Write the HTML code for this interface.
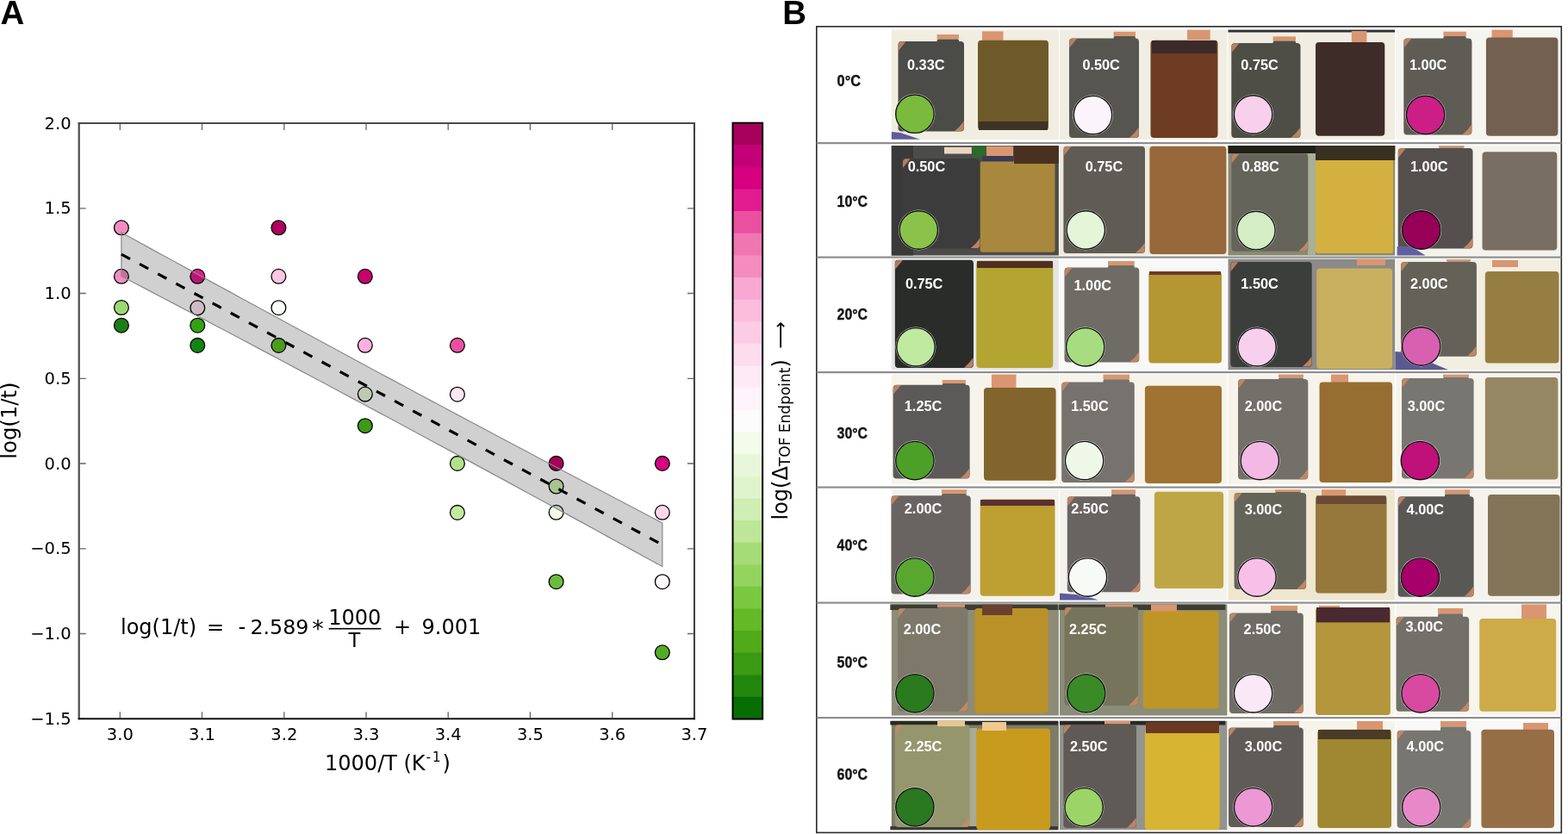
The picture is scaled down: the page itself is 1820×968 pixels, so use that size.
<!DOCTYPE html>
<html><head><meta charset="utf-8"><title>Figure</title>
<style>html,body{margin:0;padding:0;background:#fff;}body{width:1820px;height:968px;position:relative;overflow:hidden;}</style>
</head><body>
<svg width="1820" height="968" viewBox="0 0 1820 968" style="position:absolute;left:0;top:0">
<rect x="0" y="0" width="1820" height="968" fill="#fff"/>
<text x="0.5" y="28.3" font-family="'Liberation Sans', 'DejaVu Sans', sans-serif" font-weight="bold" font-size="38.5px" fill="#000">A</text>
<text x="908.3" y="28.3" font-family="'Liberation Sans', 'DejaVu Sans', sans-serif" font-weight="bold" font-size="38.5px" fill="#000">B</text>
<circle cx="140.9" cy="264.3" r="8.4" fill="#f48cc0" stroke="#000" stroke-width="1.3"/>
<circle cx="140.9" cy="320.8" r="8.4" fill="#f48cc0" stroke="#000" stroke-width="1.3"/>
<circle cx="140.9" cy="357.0" r="8.4" fill="#9cd870" stroke="#000" stroke-width="1.3"/>
<circle cx="140.9" cy="377.7" r="8.4" fill="#1a7e14" stroke="#000" stroke-width="1.3"/>
<circle cx="229.3" cy="320.8" r="8.4" fill="#e21c8e" stroke="#000" stroke-width="1.3"/>
<circle cx="229.3" cy="357.3" r="8.4" fill="#fde6f2" stroke="#000" stroke-width="1.3"/>
<circle cx="229.3" cy="377.7" r="8.4" fill="#30a412" stroke="#000" stroke-width="1.3"/>
<circle cx="229.3" cy="400.9" r="8.4" fill="#128412" stroke="#000" stroke-width="1.3"/>
<circle cx="323.4" cy="264.3" r="8.4" fill="#b0005f" stroke="#000" stroke-width="1.3"/>
<circle cx="323.4" cy="320.8" r="8.4" fill="#fbc6e2" stroke="#000" stroke-width="1.3"/>
<circle cx="323.4" cy="357.2" r="8.4" fill="#fafdf6" stroke="#000" stroke-width="1.3"/>
<circle cx="323.4" cy="400.9" r="8.4" fill="#5cc020" stroke="#000" stroke-width="1.3"/>
<circle cx="423.8" cy="320.8" r="8.4" fill="#c8006e" stroke="#000" stroke-width="1.3"/>
<circle cx="423.8" cy="400.8" r="8.4" fill="#fab0dc" stroke="#000" stroke-width="1.3"/>
<circle cx="423.8" cy="457.6" r="8.4" fill="#e8f7da" stroke="#000" stroke-width="1.3"/>
<circle cx="423.8" cy="494.2" r="8.4" fill="#3c9a14" stroke="#000" stroke-width="1.3"/>
<circle cx="530.9" cy="400.8" r="8.4" fill="#ea50a0" stroke="#000" stroke-width="1.3"/>
<circle cx="530.9" cy="457.7" r="8.4" fill="#fde6f2" stroke="#000" stroke-width="1.3"/>
<circle cx="530.9" cy="537.9" r="8.4" fill="#b2e288" stroke="#000" stroke-width="1.3"/>
<circle cx="530.9" cy="594.9" r="8.4" fill="#c4eaa0" stroke="#000" stroke-width="1.3"/>
<circle cx="645.6" cy="537.9" r="8.4" fill="#a6005a" stroke="#000" stroke-width="1.3"/>
<circle cx="645.6" cy="564.5" r="8.4" fill="#d0eeb4" stroke="#000" stroke-width="1.3"/>
<circle cx="645.6" cy="594.8" r="8.4" fill="#f0fae4" stroke="#000" stroke-width="1.3"/>
<circle cx="645.6" cy="675.2" r="8.4" fill="#6cbc3c" stroke="#000" stroke-width="1.3"/>
<circle cx="768.8" cy="537.9" r="8.4" fill="#d60080" stroke="#000" stroke-width="1.3"/>
<circle cx="768.8" cy="594.8" r="8.4" fill="#fcd6ea" stroke="#000" stroke-width="1.3"/>
<circle cx="768.8" cy="675.2" r="8.4" fill="#fffafd" stroke="#000" stroke-width="1.3"/>
<circle cx="768.8" cy="757.3" r="8.4" fill="#54ac24" stroke="#000" stroke-width="1.3"/>
<polygon points="140.9,269.8 156.6,278.5 172.3,287.1 188.0,295.7 203.7,304.3 219.4,312.9 235.1,321.5 250.8,330.1 266.5,338.6 282.2,347.2 297.9,355.8 313.5,364.3 329.2,372.8 344.9,381.3 360.6,389.8 376.3,398.3 392.0,406.8 407.7,415.3 423.4,423.7 439.1,432.2 454.8,440.6 470.5,449.0 486.2,457.5 501.9,465.9 517.6,474.2 533.3,482.6 549.0,491.0 564.7,499.3 580.4,507.7 596.1,516.0 611.8,524.3 627.5,532.7 643.2,541.0 658.9,549.2 674.6,557.5 690.3,565.8 706.0,574.0 721.7,582.3 737.4,590.5 753.1,598.8 768.8,607.0 768.8,657.6 753.1,649.0 737.4,640.4 721.7,631.7 706.0,623.1 690.3,614.5 674.6,605.9 658.9,597.4 643.2,588.8 627.5,580.2 611.8,571.7 596.1,563.1 580.4,554.6 564.7,546.1 549.0,537.6 533.3,529.1 517.6,520.6 501.9,512.2 486.2,503.7 470.5,495.3 454.8,486.8 439.1,478.4 423.4,470.0 407.7,461.6 392.0,453.2 376.3,444.8 360.6,436.5 344.9,428.1 329.2,419.8 313.5,411.4 297.9,403.1 282.2,394.8 266.5,386.5 250.8,378.2 235.1,369.9 219.4,361.7 203.7,353.4 188.0,345.2 172.3,336.9 156.6,328.7 140.9,320.5" fill="#000" fill-opacity="0.185" stroke="#8a8a8a" stroke-opacity="1" stroke-width="1.2"/>
<line x1="140.88543799089496" y1="295.1" x2="768.7541045823418" y2="632.3" stroke="#000" stroke-width="3.2" stroke-dasharray="11.5 12.5"/>
<path d="M139.3 833.3v-7M139.3 144.0v7M234.5 833.3v-7M234.5 144.0v7M329.8 833.3v-7M329.8 144.0v7M425.0 833.3v-7M425.0 144.0v7M520.2 833.3v-7M520.2 144.0v7M615.4 833.3v-7M615.4 144.0v7M710.7 833.3v-7M710.7 144.0v7M805.9 833.3v-7M805.9 144.0v7M92.7 143.0h7M804.9 143.0h-7M92.7 241.8h7M804.9 241.8h-7M92.7 340.5h7M804.9 340.5h-7M92.7 439.3h7M804.9 439.3h-7M92.7 538.0h7M804.9 538.0h-7M92.7 636.8h7M804.9 636.8h-7M92.7 735.5h7M804.9 735.5h-7M92.7 834.3h7M804.9 834.3h-7" stroke="#666" stroke-width="1.3" fill="none"/>
<line x1="91.7" y1="142.0" x2="91.7" y2="835.3" stroke="#4a4a4a" stroke-width="2.2"/>
<line x1="805.9" y1="142.0" x2="805.9" y2="835.3" stroke="#3a3a3a" stroke-width="2"/>
<line x1="90.7" y1="143.0" x2="806.9" y2="143.0" stroke="#4a4a4a" stroke-width="2"/>
<line x1="90.7" y1="834.3" x2="806.9" y2="834.3" stroke="#111" stroke-width="2"/>
<text x="139.3" y="858.6" text-anchor="middle" font-family="'DejaVu Sans', 'Liberation Sans', sans-serif" font-size="19.5px" fill="#000">3.0</text>
<text x="234.5" y="858.6" text-anchor="middle" font-family="'DejaVu Sans', 'Liberation Sans', sans-serif" font-size="19.5px" fill="#000">3.1</text>
<text x="329.8" y="858.6" text-anchor="middle" font-family="'DejaVu Sans', 'Liberation Sans', sans-serif" font-size="19.5px" fill="#000">3.2</text>
<text x="425.0" y="858.6" text-anchor="middle" font-family="'DejaVu Sans', 'Liberation Sans', sans-serif" font-size="19.5px" fill="#000">3.3</text>
<text x="520.2" y="858.6" text-anchor="middle" font-family="'DejaVu Sans', 'Liberation Sans', sans-serif" font-size="19.5px" fill="#000">3.4</text>
<text x="615.4" y="858.6" text-anchor="middle" font-family="'DejaVu Sans', 'Liberation Sans', sans-serif" font-size="19.5px" fill="#000">3.5</text>
<text x="710.7" y="858.6" text-anchor="middle" font-family="'DejaVu Sans', 'Liberation Sans', sans-serif" font-size="19.5px" fill="#000">3.6</text>
<text x="805.9" y="858.6" text-anchor="middle" font-family="'DejaVu Sans', 'Liberation Sans', sans-serif" font-size="19.5px" fill="#000">3.7</text>
<text x="82.6" y="149.6" text-anchor="end" font-family="'DejaVu Sans', 'Liberation Sans', sans-serif" font-size="19.5px" fill="#000">2.0</text>
<text x="82.6" y="248.4" text-anchor="end" font-family="'DejaVu Sans', 'Liberation Sans', sans-serif" font-size="19.5px" fill="#000">1.5</text>
<text x="82.6" y="347.1" text-anchor="end" font-family="'DejaVu Sans', 'Liberation Sans', sans-serif" font-size="19.5px" fill="#000">1.0</text>
<text x="82.6" y="445.9" text-anchor="end" font-family="'DejaVu Sans', 'Liberation Sans', sans-serif" font-size="19.5px" fill="#000">0.5</text>
<text x="82.6" y="544.6" text-anchor="end" font-family="'DejaVu Sans', 'Liberation Sans', sans-serif" font-size="19.5px" fill="#000">0.0</text>
<text x="82.6" y="643.4" text-anchor="end" font-family="'DejaVu Sans', 'Liberation Sans', sans-serif" font-size="19.5px" fill="#000">−0.5</text>
<text x="82.6" y="742.1" text-anchor="end" font-family="'DejaVu Sans', 'Liberation Sans', sans-serif" font-size="19.5px" fill="#000">−1.0</text>
<text x="82.6" y="840.9" text-anchor="end" font-family="'DejaVu Sans', 'Liberation Sans', sans-serif" font-size="19.5px" fill="#000">−1.5</text>
<text x="450" y="893.5" text-anchor="middle" font-family="'DejaVu Sans', 'Liberation Sans', sans-serif" font-size="24px" fill="#000">1000/T (K<tspan font-size="15.5px" dy="-9.5" dx="1">-</tspan><tspan font-size="15.5px" dx="1.5">1</tspan><tspan dy="9.5" dx="2">)</tspan></text>
<text transform="translate(19.2,488.1) rotate(-90)" text-anchor="middle" font-family="'DejaVu Sans', 'Liberation Sans', sans-serif" font-size="24.3px" fill="#000">log(1/t)</text>
<text x="140" y="735.7" font-family="'DejaVu Sans', 'Liberation Sans', sans-serif" font-size="24px" fill="#000" xml:space="preserve">log(1/t)</text>
<text x="240" y="735.7" font-family="'DejaVu Sans', 'Liberation Sans', sans-serif" font-size="24px" fill="#000">=</text>
<text x="276.5" y="735.7" font-family="'DejaVu Sans', 'Liberation Sans', sans-serif" font-size="24px" fill="#000">-</text>
<text x="290.5" y="735.7" font-family="'DejaVu Sans', 'Liberation Sans', sans-serif" font-size="23.7px" fill="#000">2.589</text>
<text x="362.3" y="738.5" font-family="'DejaVu Sans', 'Liberation Sans', sans-serif" font-size="27px" fill="#000">*</text>
<text x="411.7" y="724.6" text-anchor="middle" font-family="'DejaVu Sans', 'Liberation Sans', sans-serif" font-size="24px" fill="#000">1000</text>
<rect x="381.6" y="728.9" width="60.7" height="1.6" fill="#000"/>
<text x="411.3" y="750.7" text-anchor="middle" font-family="'DejaVu Sans', 'Liberation Sans', sans-serif" font-size="22.5px" fill="#000">T</text>
<text x="457" y="735.7" font-family="'DejaVu Sans', 'Liberation Sans', sans-serif" font-size="24px" fill="#000">+</text>
<text x="489.5" y="735.7" font-family="'DejaVu Sans', 'Liberation Sans', sans-serif" font-size="24px" fill="#000">9.001</text>
<rect x="850.5" y="142.70" width="34.6" height="26.22" fill="#a6005a"/>
<rect x="850.5" y="168.32" width="34.6" height="26.22" fill="#c40076"/>
<rect x="850.5" y="193.94" width="34.6" height="26.22" fill="#d60080"/>
<rect x="850.5" y="219.57" width="34.6" height="26.22" fill="#e21c8e"/>
<rect x="850.5" y="245.19" width="34.6" height="26.22" fill="#ea50a0"/>
<rect x="850.5" y="270.81" width="34.6" height="26.22" fill="#f076b2"/>
<rect x="850.5" y="296.43" width="34.6" height="26.22" fill="#f48cc0"/>
<rect x="850.5" y="322.06" width="34.6" height="26.22" fill="#f8a8d2"/>
<rect x="850.5" y="347.68" width="34.6" height="26.22" fill="#fbbcdc"/>
<rect x="850.5" y="373.30" width="34.6" height="26.22" fill="#fccce4"/>
<rect x="850.5" y="398.92" width="34.6" height="26.22" fill="#fddcee"/>
<rect x="850.5" y="424.54" width="34.6" height="26.22" fill="#feeaf5"/>
<rect x="850.5" y="450.17" width="34.6" height="26.22" fill="#fef4f9"/>
<rect x="850.5" y="475.79" width="34.6" height="26.22" fill="#fcfcfc"/>
<rect x="850.5" y="501.41" width="34.6" height="26.22" fill="#f3fbe9"/>
<rect x="850.5" y="527.03" width="34.6" height="26.22" fill="#e8f7da"/>
<rect x="850.5" y="552.66" width="34.6" height="26.22" fill="#dff4cc"/>
<rect x="850.5" y="578.28" width="34.6" height="26.22" fill="#d0eeb4"/>
<rect x="850.5" y="603.90" width="34.6" height="26.22" fill="#bde698"/>
<rect x="850.5" y="629.52" width="34.6" height="26.22" fill="#a6dc78"/>
<rect x="850.5" y="655.14" width="34.6" height="26.22" fill="#92d45e"/>
<rect x="850.5" y="680.77" width="34.6" height="26.22" fill="#7ac840"/>
<rect x="850.5" y="706.39" width="34.6" height="26.22" fill="#64ba26"/>
<rect x="850.5" y="732.01" width="34.6" height="26.22" fill="#50aa1a"/>
<rect x="850.5" y="757.63" width="34.6" height="26.22" fill="#3a9a12"/>
<rect x="850.5" y="783.26" width="34.6" height="26.22" fill="#22860c"/>
<rect x="850.5" y="808.88" width="34.6" height="26.22" fill="#076e04"/>
<rect x="850.5" y="142.7" width="34.6" height="691.8" fill="none" stroke="#000" stroke-width="2"/>
<g transform="translate(913.6,603.5) rotate(-90)"><text x="0" y="0" font-family="'DejaVu Sans', 'Liberation Sans', sans-serif" font-size="24px" fill="#000">log(Δ<tspan font-size="17px" dy="3.5">TOF Endpoint</tspan><tspan dy="-3.5">)</tspan></text></g>
<g transform="translate(912.5,404.5) rotate(-90)"><text x="0" y="0" font-family="'DejaVu Sans', 'Liberation Sans', sans-serif" font-size="22px" fill="#000">⟶</text></g>
<rect x="947.8" y="30.8" width="864.5" height="935.6" fill="#fff" stroke="#2a2a2a" stroke-width="1.6"/>
<rect x="947.8" y="165.0" width="864.5" height="2.2" fill="#8e8e8e"/>
<rect x="947.8" y="297.5" width="864.5" height="2.2" fill="#8e8e8e"/>
<rect x="947.8" y="431.0" width="864.5" height="2.2" fill="#8e8e8e"/>
<rect x="947.8" y="564.5" width="864.5" height="2.2" fill="#8e8e8e"/>
<rect x="947.8" y="698.5" width="864.5" height="2.2" fill="#8e8e8e"/>
<rect x="947.8" y="832.0" width="864.5" height="2.2" fill="#8e8e8e"/>
<text x="971.6" y="99.5" font-family="'Liberation Sans', 'DejaVu Sans', sans-serif" font-weight="bold" font-size="17.5px" fill="#111" stroke="#111" stroke-width="0.35" textLength="27.4" lengthAdjust="spacingAndGlyphs">0°C</text>
<text x="971.6" y="240.3" font-family="'Liberation Sans', 'DejaVu Sans', sans-serif" font-weight="bold" font-size="17.5px" fill="#111" stroke="#111" stroke-width="0.35" textLength="35.5" lengthAdjust="spacingAndGlyphs">10°C</text>
<text x="971.6" y="371.4" font-family="'Liberation Sans', 'DejaVu Sans', sans-serif" font-weight="bold" font-size="17.5px" fill="#111" stroke="#111" stroke-width="0.35" textLength="35.5" lengthAdjust="spacingAndGlyphs">20°C</text>
<text x="971.6" y="509.1" font-family="'Liberation Sans', 'DejaVu Sans', sans-serif" font-weight="bold" font-size="17.5px" fill="#111" stroke="#111" stroke-width="0.35" textLength="35.5" lengthAdjust="spacingAndGlyphs">30°C</text>
<text x="971.6" y="638.6" font-family="'Liberation Sans', 'DejaVu Sans', sans-serif" font-weight="bold" font-size="17.5px" fill="#111" stroke="#111" stroke-width="0.35" textLength="35.5" lengthAdjust="spacingAndGlyphs">40°C</text>
<text x="971.6" y="774.7" font-family="'Liberation Sans', 'DejaVu Sans', sans-serif" font-weight="bold" font-size="17.5px" fill="#111" stroke="#111" stroke-width="0.35" textLength="35.5" lengthAdjust="spacingAndGlyphs">50°C</text>
<text x="971.6" y="904.7" font-family="'Liberation Sans', 'DejaVu Sans', sans-serif" font-weight="bold" font-size="17.5px" fill="#111" stroke="#111" stroke-width="0.35" textLength="35.5" lengthAdjust="spacingAndGlyphs">60°C</text>
<rect x="1034.8" y="34.6" width="194.1" height="127.4" fill="#f1ede0"/>
<rect x="1087.6" y="40" width="25.4" height="5.4" fill="#d99670"/>
<rect x="1087.6" y="45.4" width="25.4" height="5.6" rx="1.5" fill="#4b4b48"/>
<rect x="1140" y="36.4" width="24.5" height="10.6" fill="#d99670"/>
<rect x="1042.5" y="48" width="76.5" height="104.5" rx="4" fill="#4b4b48"/>
<path d="M1042.8 59.0L1042.8 52.0Q1043.1 48.6 1046.5 48.3L1051.5 48.3Z" fill="#c98a66" opacity="0.85"/>
<path d="M1118.7 140.5L1118.7 148.5Q1118.4 151.9 1115.0 152.2L1108.0 152.2Q1114.0 147.5 1118.7 140.5Z" fill="#c98a66" opacity="0.9"/>
<rect x="1135" y="46.7" width="82.0" height="104.3" rx="4" fill="#6e5a28"/>
<rect x="1136" y="141" width="80.0" height="10.0" fill="#3e3224"/>
<polygon points="1034.8,153 1045,154 1068,161.8 1034.8,161.8" fill="#5c5c9c"/>
<text x="1053" y="81.1" font-family="'Liberation Sans', 'DejaVu Sans', sans-serif" font-weight="bold" font-size="15.8px" fill="#fff" textLength="43.5" lengthAdjust="spacingAndGlyphs">0.33C</text>
<circle cx="1061.9" cy="132.2" r="23.4" fill="#fff" fill-opacity="0.85"/>
<circle cx="1061.9" cy="132.2" r="22.2" fill="#7abb3e" stroke="#111" stroke-width="1.4"/>
<rect x="1230.0" y="34.6" width="194.4" height="127.4" fill="#f0ede2"/>
<rect x="1292.6" y="36.8" width="25.4" height="5.2" fill="#d99670"/>
<rect x="1292.6" y="42.0" width="25.4" height="5.5" rx="1.5" fill="#575550"/>
<rect x="1378" y="34.6" width="26.7" height="11.4" fill="#d99670"/>
<rect x="1241" y="44.5" width="81.0" height="115.5" rx="4" fill="#575550"/>
<path d="M1241.3 55.5L1241.3 48.5Q1241.6 45.1 1245.0 44.8L1250.0 44.8Z" fill="#c98a66" opacity="0.85"/>
<path d="M1321.7 148.0L1321.7 156.0Q1321.4 159.4 1318.0 159.7L1311.0 159.7Q1317.0 155.0 1321.7 148.0Z" fill="#c98a66" opacity="0.9"/>
<rect x="1335.5" y="46.7" width="78.0" height="113.3" rx="4" fill="#6e3c22"/>
<rect x="1337" y="47" width="75.0" height="15.0" fill="#3c2a28"/>
<text x="1256.4" y="81.1" font-family="'Liberation Sans', 'DejaVu Sans', sans-serif" font-weight="bold" font-size="15.8px" fill="#fff" textLength="43.5" lengthAdjust="spacingAndGlyphs">0.50C</text>
<circle cx="1268.5" cy="133.5" r="23.4" fill="#fff" fill-opacity="0.85"/>
<circle cx="1268.5" cy="133.5" r="22.2" fill="#fbf4fa" stroke="#111" stroke-width="1.4"/>
<rect x="1425.5" y="34.6" width="193.7" height="127.4" fill="#f1ede2"/>
<rect x="1425.5" y="34.6" width="193.5" height="2.9" fill="#30303a"/>
<rect x="1477.6" y="42.3" width="26.4" height="5.2" fill="#d99670"/>
<rect x="1477.6" y="47.5" width="26.4" height="5.5" rx="1.5" fill="#4e4e46"/>
<rect x="1568.8" y="36" width="17.6" height="13.0" fill="#d99670"/>
<rect x="1429.3" y="50" width="80.2" height="110.0" rx="4" fill="#4e4e46"/>
<path d="M1429.6 61.0L1429.6 54.0Q1429.9 50.6 1433.3 50.3L1438.3 50.3Z" fill="#c98a66" opacity="0.85"/>
<path d="M1509.2 148.0L1509.2 156.0Q1508.9 159.4 1505.5 159.7L1498.5 159.7Q1504.5 155.0 1509.2 148.0Z" fill="#c98a66" opacity="0.9"/>
<rect x="1527" y="48.9" width="80.3" height="108.8" rx="4" fill="#3e2c28"/>
<text x="1440.3" y="81.1" font-family="'Liberation Sans', 'DejaVu Sans', sans-serif" font-weight="bold" font-size="15.8px" fill="#fff" textLength="43.5" lengthAdjust="spacingAndGlyphs">0.75C</text>
<circle cx="1454.6" cy="133" r="23.4" fill="#fff" fill-opacity="0.85"/>
<circle cx="1454.6" cy="133" r="22.2" fill="#f8d0ec" stroke="#111" stroke-width="1.4"/>
<rect x="1620.5" y="34.6" width="190.1" height="127.4" fill="#f6f4ee"/>
<rect x="1675.4" y="36.7" width="26.4" height="5.3" fill="#d99670"/>
<rect x="1675.4" y="42.0" width="26.4" height="5.5" rx="1.5" fill="#5f5c56"/>
<rect x="1731.5" y="34.6" width="24.2" height="9.9" fill="#d99670"/>
<rect x="1629.3" y="44.5" width="79.1" height="112.1" rx="4" fill="#5f5c56"/>
<path d="M1629.6 55.5L1629.6 48.5Q1629.9 45.1 1633.3 44.8L1638.3 44.8Z" fill="#c98a66" opacity="0.85"/>
<path d="M1708.1 144.6L1708.1 152.6Q1707.8 156.0 1704.4 156.3L1697.4 156.3Q1703.4 151.6 1708.1 144.6Z" fill="#c98a66" opacity="0.9"/>
<rect x="1724.9" y="43.4" width="83.5" height="114.3" rx="4" fill="#736050"/>
<text x="1635.9" y="81.1" font-family="'Liberation Sans', 'DejaVu Sans', sans-serif" font-weight="bold" font-size="15.8px" fill="#fff" textLength="43.5" lengthAdjust="spacingAndGlyphs">1.00C</text>
<circle cx="1654.6" cy="133.5" r="23.4" fill="#fff" fill-opacity="0.85"/>
<circle cx="1654.6" cy="133.5" r="22.2" fill="#cc1f86" stroke="#111" stroke-width="1.4"/>
<rect x="1034.8" y="169.0" width="194.1" height="127.5" fill="#4c4c4a"/>
<rect x="1034.8" y="169" width="25.2" height="127.5" fill="#3a3a3a"/>
<rect x="1145" y="169.7" width="31.0" height="11.3" fill="#d99670"/>
<rect x="1047.6" y="184" width="90.1" height="104.4" rx="6" fill="#3c3c3c"/>
<path d="M1047.9 195.0L1047.9 188.0Q1048.2 184.6 1051.6 184.3L1056.6 184.3Z" fill="#c98a66" opacity="0.85"/>
<path d="M1137.4 276.4L1137.4 284.4Q1137.1 287.8 1133.7 288.1L1126.7 288.1Q1132.7 283.4 1137.4 276.4Z" fill="#c98a66" opacity="0.9"/>
<rect x="1137.7" y="187.3" width="86.8" height="105.5" rx="3" fill="#a8883c"/>
<rect x="1096" y="170.8" width="31.8" height="7.7" fill="#e8d8c0"/>
<rect x="1129" y="169" width="15.0" height="14.0" fill="#2a6a2a"/>
<rect x="1177" y="169" width="51.9" height="21.0" fill="#4a3020"/>
<rect x="1140" y="181" width="36.0" height="6.3" fill="#3a3a58"/>
<text x="1053.7" y="199.3" font-family="'Liberation Sans', 'DejaVu Sans', sans-serif" font-weight="bold" font-size="15.8px" fill="#fff" textLength="43.5" lengthAdjust="spacingAndGlyphs">0.50C</text>
<circle cx="1066.3" cy="267" r="23.4" fill="#fff" fill-opacity="0.85"/>
<circle cx="1066.3" cy="267" r="22.2" fill="#8bc34a" stroke="#111" stroke-width="1.4"/>
<rect x="1230.0" y="169.0" width="194.4" height="127.5" fill="#eeeadc"/>
<rect x="1234.4" y="169.7" width="94.6" height="124.2" rx="4" fill="#5f5c55"/>
<path d="M1234.7 180.7L1234.7 173.7Q1235.0 170.3 1238.4 170.0L1243.4 170.0Z" fill="#c98a66" opacity="0.85"/>
<path d="M1328.7 281.9L1328.7 289.9Q1328.4 293.3 1325.0 293.6L1318.0 293.6Q1324.0 288.9 1328.7 281.9Z" fill="#c98a66" opacity="0.9"/>
<rect x="1334.4" y="169.7" width="89.0" height="125.3" rx="4" fill="#96683a"/>
<text x="1259.7" y="199.3" font-family="'Liberation Sans', 'DejaVu Sans', sans-serif" font-weight="bold" font-size="15.8px" fill="#fff" textLength="43.5" lengthAdjust="spacingAndGlyphs">0.75C</text>
<circle cx="1260.3" cy="267" r="23.4" fill="#fff" fill-opacity="0.85"/>
<circle cx="1260.3" cy="267" r="22.2" fill="#e4f5d8" stroke="#111" stroke-width="1.4"/>
<rect x="1425.5" y="169.0" width="193.7" height="127.5" fill="#8a8a70"/>
<rect x="1425.5" y="169" width="193.7" height="9.0" fill="#202018"/>
<rect x="1518" y="178" width="9.0" height="118.5" fill="#a8b098"/>
<rect x="1429.3" y="178.5" width="89.0" height="113.2" rx="4" fill="#64645a"/>
<path d="M1429.6 189.5L1429.6 182.5Q1429.9 179.1 1433.3 178.8L1438.3 178.8Z" fill="#c98a66" opacity="0.85"/>
<path d="M1518.0 279.7L1518.0 287.7Q1517.7 291.1 1514.3 291.4L1507.3 291.4Q1513.3 286.7 1518.0 279.7Z" fill="#c98a66" opacity="0.9"/>
<rect x="1527" y="184" width="90.2" height="109.9" rx="3" fill="#d4b040"/>
<rect x="1527" y="169" width="92.2" height="17.0" fill="#383020"/>
<text x="1441.4" y="199.3" font-family="'Liberation Sans', 'DejaVu Sans', sans-serif" font-weight="bold" font-size="15.8px" fill="#fff" textLength="43.5" lengthAdjust="spacingAndGlyphs">0.88C</text>
<circle cx="1457.9" cy="267.5" r="23.4" fill="#fff" fill-opacity="0.85"/>
<circle cx="1457.9" cy="267.5" r="22.2" fill="#d4edc4" stroke="#111" stroke-width="1.4"/>
<rect x="1620.5" y="169.0" width="190.1" height="127.5" fill="#f4f2ea"/>
<rect x="1670" y="169" width="29.6" height="2.4" fill="#d99670"/>
<rect x="1670" y="171.4" width="29.6" height="3.5" rx="1.5" fill="#55504e"/>
<rect x="1622.7" y="171.9" width="86.8" height="116.5" rx="4" fill="#55504e"/>
<path d="M1623.0 182.9L1623.0 175.9Q1623.3 172.5 1626.7 172.2L1631.7 172.2Z" fill="#c98a66" opacity="0.85"/>
<path d="M1709.2 276.4L1709.2 284.4Q1708.9 287.8 1705.5 288.1L1698.5 288.1Q1704.5 283.4 1709.2 276.4Z" fill="#c98a66" opacity="0.9"/>
<rect x="1720.5" y="176.3" width="86.8" height="114.3" rx="4" fill="#786e64"/>
<polygon points="1621.6,286 1638,286 1654.6,296.5 1621.6,296.5" fill="#6060a0"/>
<text x="1637" y="199.3" font-family="'Liberation Sans', 'DejaVu Sans', sans-serif" font-weight="bold" font-size="15.8px" fill="#fff" textLength="43.5" lengthAdjust="spacingAndGlyphs">1.00C</text>
<circle cx="1649.7" cy="267" r="23.4" fill="#fff" fill-opacity="0.85"/>
<circle cx="1649.7" cy="267" r="22.2" fill="#980058" stroke="#111" stroke-width="1.4"/>
<rect x="1034.8" y="300.6" width="194.1" height="128.6" fill="#e6e4e4"/>
<rect x="1038.8" y="301.7" width="91.2" height="125.3" rx="4" fill="#2a2c2a"/>
<path d="M1039.1 312.7L1039.1 305.7Q1039.4 302.3 1042.8 302.0L1047.8 302.0Z" fill="#c98a66" opacity="0.85"/>
<path d="M1129.7 415.0L1129.7 423.0Q1129.4 426.4 1126.0 426.7L1119.0 426.7Q1125.0 422.0 1129.7 415.0Z" fill="#c98a66" opacity="0.9"/>
<rect x="1133.3" y="302.8" width="89.0" height="124.2" rx="4" fill="#b4a432"/>
<rect x="1134" y="303" width="88.0" height="8.0" fill="#503020"/>
<text x="1050.9" y="335.0" font-family="'Liberation Sans', 'DejaVu Sans', sans-serif" font-weight="bold" font-size="15.8px" fill="#fff" textLength="43.5" lengthAdjust="spacingAndGlyphs">0.75C</text>
<circle cx="1063" cy="402.8" r="23.4" fill="#fff" fill-opacity="0.85"/>
<circle cx="1063" cy="402.8" r="22.2" fill="#c0eaa0" stroke="#111" stroke-width="1.4"/>
<rect x="1230.0" y="300.6" width="194.4" height="128.6" fill="#f8f8f6"/>
<rect x="1286" y="303" width="30.8" height="5.1" fill="#d99670"/>
<rect x="1286" y="308.1" width="30.8" height="5.4" rx="1.5" fill="#6e6c64"/>
<rect x="1235.5" y="310.5" width="86.8" height="109.9" rx="4" fill="#6e6c64"/>
<path d="M1235.8 321.5L1235.8 314.5Q1236.1 311.1 1239.5 310.8L1244.5 310.8Z" fill="#c98a66" opacity="0.85"/>
<path d="M1322.0 408.4L1322.0 416.4Q1321.7 419.8 1318.3 420.1L1311.3 420.1Q1317.3 415.4 1322.0 408.4Z" fill="#c98a66" opacity="0.9"/>
<rect x="1333.3" y="314.9" width="84.7" height="106.6" rx="4" fill="#b49632"/>
<rect x="1334" y="315" width="83.0" height="4.0" fill="#6a3a28"/>
<text x="1246.5" y="337.2" font-family="'Liberation Sans', 'DejaVu Sans', sans-serif" font-weight="bold" font-size="15.8px" fill="#fff" textLength="43.5" lengthAdjust="spacingAndGlyphs">1.00C</text>
<circle cx="1259.7" cy="402.8" r="23.4" fill="#fff" fill-opacity="0.85"/>
<circle cx="1259.7" cy="402.8" r="22.2" fill="#a8dc80" stroke="#111" stroke-width="1.4"/>
<rect x="1425.5" y="300.6" width="193.7" height="128.6" fill="#8c8a88"/>
<rect x="1575" y="300.6" width="33.0" height="7.4" fill="#d99670"/>
<rect x="1428.2" y="303.9" width="94.5" height="122.0" rx="4" fill="#3c3e3c"/>
<path d="M1428.5 314.9L1428.5 307.9Q1428.8 304.5 1432.2 304.2L1437.2 304.2Z" fill="#c98a66" opacity="0.85"/>
<path d="M1522.4 413.9L1522.4 421.9Q1522.1 425.3 1518.7 425.6L1511.7 425.6Q1517.7 420.9 1522.4 413.9Z" fill="#c98a66" opacity="0.9"/>
<rect x="1528.2" y="311.6" width="87.9" height="116.4" rx="4" fill="#c8b060"/>
<text x="1440.3" y="335.0" font-family="'Liberation Sans', 'DejaVu Sans', sans-serif" font-weight="bold" font-size="15.8px" fill="#fff" textLength="43.5" lengthAdjust="spacingAndGlyphs">1.50C</text>
<circle cx="1459" cy="402.8" r="23.4" fill="#fff" fill-opacity="0.85"/>
<circle cx="1459" cy="402.8" r="22.2" fill="#f8d0ee" stroke="#111" stroke-width="1.4"/>
<rect x="1620.5" y="300.6" width="190.1" height="128.6" fill="#f2eee2"/>
<rect x="1679" y="301" width="28.0" height="2.4" fill="#d99670"/>
<rect x="1679" y="303.4" width="28.0" height="3.5" rx="1.5" fill="#646258"/>
<rect x="1732" y="302" width="30.0" height="8.0" fill="#d99670"/>
<rect x="1626" y="303.9" width="87.9" height="109.9" rx="4" fill="#646258"/>
<path d="M1626.3 314.9L1626.3 307.9Q1626.6 304.5 1630.0 304.2L1635.0 304.2Z" fill="#c98a66" opacity="0.85"/>
<path d="M1713.6 401.8L1713.6 409.8Q1713.3 413.2 1709.9 413.5L1702.9 413.5Q1708.9 408.8 1713.6 401.8Z" fill="#c98a66" opacity="0.9"/>
<rect x="1723.8" y="314.9" width="85.7" height="106.6" rx="4" fill="#967d41"/>
<polygon points="1619.4,408 1633,409 1681,429.2 1619.4,429.2" fill="#5a5a90"/>
<text x="1637" y="335.0" font-family="'Liberation Sans', 'DejaVu Sans', sans-serif" font-weight="bold" font-size="15.8px" fill="#fff" textLength="43.5" lengthAdjust="spacingAndGlyphs">2.00C</text>
<circle cx="1649.7" cy="402" r="23.4" fill="#fff" fill-opacity="0.85"/>
<circle cx="1649.7" cy="402" r="22.2" fill="#d860b0" stroke="#111" stroke-width="1.4"/>
<rect x="1034.8" y="434.6" width="194.1" height="127.4" fill="#f6f3ea"/>
<rect x="1093.7" y="441" width="27.3" height="3.9" fill="#d99670"/>
<rect x="1093.7" y="444.9" width="27.3" height="4.8" rx="1.5" fill="#5c5a58"/>
<rect x="1150.9" y="434.6" width="28.6" height="15.9" fill="#d99670"/>
<rect x="1036.6" y="446.7" width="89.0" height="108.8" rx="4" fill="#5c5a58"/>
<path d="M1036.9 457.7L1036.9 450.7Q1037.2 447.3 1040.6 447.0L1045.6 447.0Z" fill="#c98a66" opacity="0.85"/>
<path d="M1125.3 543.5L1125.3 551.5Q1125.0 554.9 1121.6 555.2L1114.6 555.2Q1120.6 550.5 1125.3 543.5Z" fill="#c98a66" opacity="0.9"/>
<rect x="1142" y="450" width="83.6" height="107.7" rx="4" fill="#82642d"/>
<text x="1049.8" y="476.7" font-family="'Liberation Sans', 'DejaVu Sans', sans-serif" font-weight="bold" font-size="15.8px" fill="#fff" textLength="43.5" lengthAdjust="spacingAndGlyphs">1.25C</text>
<circle cx="1061.9" cy="534.6" r="23.4" fill="#fff" fill-opacity="0.85"/>
<circle cx="1061.9" cy="534.6" r="22.2" fill="#4ca028" stroke="#111" stroke-width="1.4"/>
<rect x="1230.0" y="434.6" width="194.4" height="127.4" fill="#f6f3ea"/>
<rect x="1280.5" y="434.6" width="30.5" height="5.6" fill="#d99670"/>
<rect x="1280.5" y="440.2" width="30.5" height="6.2" rx="1.5" fill="#76736e"/>
<rect x="1232.2" y="443.4" width="84.6" height="116.5" rx="4" fill="#76736e"/>
<path d="M1232.5 454.4L1232.5 447.4Q1232.8 444.0 1236.2 443.7L1241.2 443.7Z" fill="#c98a66" opacity="0.85"/>
<path d="M1316.5 547.9L1316.5 555.9Q1316.2 559.3 1312.8 559.6L1305.8 559.6Q1311.8 554.9 1316.5 547.9Z" fill="#c98a66" opacity="0.9"/>
<rect x="1328.9" y="447.8" width="89.1" height="113.2" rx="4" fill="#a07332"/>
<text x="1243.2" y="476.7" font-family="'Liberation Sans', 'DejaVu Sans', sans-serif" font-weight="bold" font-size="15.8px" fill="#fff" textLength="43.5" lengthAdjust="spacingAndGlyphs">1.50C</text>
<circle cx="1258.6" cy="534.6" r="23.4" fill="#fff" fill-opacity="0.85"/>
<circle cx="1258.6" cy="534.6" r="22.2" fill="#eef7e8" stroke="#111" stroke-width="1.4"/>
<rect x="1425.5" y="434.6" width="193.7" height="127.4" fill="#f6f3ea"/>
<rect x="1484" y="434.6" width="29.0" height="3.8" fill="#d99670"/>
<rect x="1484" y="438.4" width="29.0" height="4.6" rx="1.5" fill="#73706a"/>
<rect x="1545" y="434.6" width="20.0" height="9.4" fill="#d99670"/>
<rect x="1437" y="440" width="81.3" height="116.6" rx="4" fill="#73706a"/>
<path d="M1437.3 451.0L1437.3 444.0Q1437.6 440.6 1441.0 440.3L1446.0 440.3Z" fill="#c98a66" opacity="0.85"/>
<path d="M1518.0 544.6L1518.0 552.6Q1517.7 556.0 1514.3 556.3L1507.3 556.3Q1513.3 551.6 1518.0 544.6Z" fill="#c98a66" opacity="0.9"/>
<rect x="1531.5" y="443.4" width="84.6" height="116.5" rx="4" fill="#966e32"/>
<text x="1444.7" y="476.7" font-family="'Liberation Sans', 'DejaVu Sans', sans-serif" font-weight="bold" font-size="15.8px" fill="#fff" textLength="43.5" lengthAdjust="spacingAndGlyphs">2.00C</text>
<circle cx="1462.3" cy="534.6" r="23.4" fill="#fff" fill-opacity="0.85"/>
<circle cx="1462.3" cy="534.6" r="22.2" fill="#f4b8e4" stroke="#111" stroke-width="1.4"/>
<rect x="1620.5" y="434.6" width="190.1" height="127.4" fill="#f6f3ea"/>
<rect x="1675" y="434.6" width="30.0" height="3.2" fill="#d99670"/>
<rect x="1675" y="437.8" width="30.0" height="4.2" rx="1.5" fill="#787670"/>
<rect x="1627" y="439" width="83.6" height="116.5" rx="4" fill="#787670"/>
<path d="M1627.3 450.0L1627.3 443.0Q1627.6 439.6 1631.0 439.3L1636.0 439.3Z" fill="#c98a66" opacity="0.85"/>
<path d="M1710.3 543.5L1710.3 551.5Q1710.0 554.9 1706.6 555.2L1699.6 555.2Q1705.6 550.5 1710.3 543.5Z" fill="#c98a66" opacity="0.9"/>
<rect x="1723.8" y="437.9" width="84.6" height="118.7" rx="4" fill="#968764"/>
<text x="1633.7" y="476.7" font-family="'Liberation Sans', 'DejaVu Sans', sans-serif" font-weight="bold" font-size="15.8px" fill="#fff" textLength="43.5" lengthAdjust="spacingAndGlyphs">3.00C</text>
<circle cx="1648.4" cy="534.6" r="23.4" fill="#fff" fill-opacity="0.85"/>
<circle cx="1648.4" cy="534.6" r="22.2" fill="#c0107a" stroke="#111" stroke-width="1.4"/>
<rect x="1034.8" y="568.2" width="194.1" height="128.3" fill="#f4f2ec"/>
<rect x="1093" y="568.2" width="29.0" height="4.7" fill="#d99670"/>
<rect x="1093" y="572.9" width="29.0" height="5.3" rx="1.5" fill="#696462"/>
<rect x="1034.4" y="575.2" width="92.3" height="114.3" rx="4" fill="#696462"/>
<path d="M1034.7 586.2L1034.7 579.2Q1035.0 575.8 1038.4 575.5L1043.4 575.5Z" fill="#c98a66" opacity="0.85"/>
<path d="M1126.4 677.5L1126.4 685.5Q1126.1 688.9 1122.7 689.2L1115.7 689.2Q1121.7 684.5 1126.4 677.5Z" fill="#c98a66" opacity="0.9"/>
<rect x="1137.7" y="579.6" width="86.8" height="112.1" rx="4" fill="#be9f32"/>
<rect x="1138" y="580" width="86.0" height="7.0" fill="#5a3030"/>
<text x="1049.8" y="596.3" font-family="'Liberation Sans', 'DejaVu Sans', sans-serif" font-weight="bold" font-size="15.8px" fill="#fff" textLength="43.5" lengthAdjust="spacingAndGlyphs">2.00C</text>
<circle cx="1061.9" cy="670.1" r="23.4" fill="#fff" fill-opacity="0.85"/>
<circle cx="1061.9" cy="670.1" r="22.2" fill="#58a830" stroke="#111" stroke-width="1.4"/>
<rect x="1230.0" y="568.2" width="194.4" height="128.3" fill="#f4f2ec"/>
<rect x="1290" y="568.2" width="28.0" height="5.3" fill="#d99670"/>
<rect x="1290" y="573.5" width="28.0" height="5.8" rx="1.5" fill="#696462"/>
<rect x="1238.8" y="576.3" width="84.6" height="111.0" rx="4" fill="#696462"/>
<path d="M1239.1 587.3L1239.1 580.3Q1239.4 576.9 1242.8 576.6L1247.8 576.6Z" fill="#c98a66" opacity="0.85"/>
<path d="M1323.1 675.3L1323.1 683.3Q1322.8 686.7 1319.4 687.0L1312.4 687.0Q1318.4 682.3 1323.1 675.3Z" fill="#c98a66" opacity="0.9"/>
<rect x="1339.9" y="570.8" width="80.2" height="112.1" rx="4" fill="#bea546"/>
<polygon points="1230,688.5 1255,690.5 1275,696.5 1230,696.5" fill="#5c5c9c"/>
<text x="1243.2" y="596.3" font-family="'Liberation Sans', 'DejaVu Sans', sans-serif" font-weight="bold" font-size="15.8px" fill="#fff" textLength="43.5" lengthAdjust="spacingAndGlyphs">2.50C</text>
<circle cx="1262.5" cy="670.1" r="23.4" fill="#fff" fill-opacity="0.85"/>
<circle cx="1262.5" cy="670.1" r="22.2" fill="#f8faf6" stroke="#111" stroke-width="1.4"/>
<rect x="1425.5" y="568.2" width="193.7" height="128.3" fill="#efe6d0"/>
<rect x="1480" y="568.2" width="30.0" height="2.9" fill="#d99670"/>
<rect x="1480" y="571.1" width="30.0" height="3.8" rx="1.5" fill="#646458"/>
<rect x="1534" y="568.2" width="28.0" height="7.8" fill="#d99670"/>
<rect x="1432.6" y="571.9" width="83.5" height="112.1" rx="4" fill="#646458"/>
<path d="M1432.9 582.9L1432.9 575.9Q1433.2 572.5 1436.6 572.2L1441.6 572.2Z" fill="#c98a66" opacity="0.85"/>
<path d="M1515.8 672.0L1515.8 680.0Q1515.5 683.4 1512.1 683.7L1505.1 683.7Q1511.1 679.0 1515.8 672.0Z" fill="#c98a66" opacity="0.9"/>
<rect x="1527" y="575.2" width="82.5" height="113.2" rx="4" fill="#96783c"/>
<rect x="1528" y="575.5" width="81.0" height="9.5" fill="#6a4a36"/>
<text x="1444.7" y="597.0" font-family="'Liberation Sans', 'DejaVu Sans', sans-serif" font-weight="bold" font-size="15.8px" fill="#fff" textLength="43.5" lengthAdjust="spacingAndGlyphs">3.00C</text>
<circle cx="1459" cy="670.1" r="23.4" fill="#fff" fill-opacity="0.85"/>
<circle cx="1459" cy="670.1" r="22.2" fill="#f8c0e8" stroke="#111" stroke-width="1.4"/>
<rect x="1620.5" y="568.2" width="190.1" height="128.3" fill="#f4f2ec"/>
<rect x="1677" y="568.2" width="29.0" height="5.3" fill="#d99670"/>
<rect x="1677" y="573.5" width="29.0" height="5.8" rx="1.5" fill="#5a5855"/>
<rect x="1622.7" y="576.3" width="87.9" height="116.5" rx="4" fill="#5a5855"/>
<path d="M1623.0 587.3L1623.0 580.3Q1623.3 576.9 1626.7 576.6L1631.7 576.6Z" fill="#c98a66" opacity="0.85"/>
<path d="M1710.3 680.8L1710.3 688.8Q1710.0 692.2 1706.6 692.5L1699.6 692.5Q1705.6 687.8 1710.3 680.8Z" fill="#c98a66" opacity="0.9"/>
<rect x="1727" y="574" width="83.6" height="117.7" rx="4" fill="#847458"/>
<text x="1632.6" y="597.0" font-family="'Liberation Sans', 'DejaVu Sans', sans-serif" font-weight="bold" font-size="15.8px" fill="#fff" textLength="43.5" lengthAdjust="spacingAndGlyphs">4.00C</text>
<circle cx="1648.4" cy="670.1" r="23.4" fill="#fff" fill-opacity="0.85"/>
<circle cx="1648.4" cy="670.1" r="22.2" fill="#a8006a" stroke="#111" stroke-width="1.4"/>
<rect x="1034.8" y="701.5" width="194.1" height="129.0" fill="#8c8c78"/>
<rect x="1033.3" y="701.5" width="194.5" height="6.5" fill="#3c3c30"/>
<rect x="1088" y="701.5" width="32.0" height="3.3" fill="#d99670"/>
<rect x="1088" y="704.8" width="32.0" height="4.1" rx="1.5" fill="#7d7869"/>
<rect x="1042" y="705.9" width="81.4" height="119.8" rx="4" fill="#7d7869"/>
<path d="M1042.3 716.9L1042.3 709.9Q1042.6 706.5 1046.0 706.2L1051.0 706.2Z" fill="#c98a66" opacity="0.85"/>
<path d="M1123.1 813.7L1123.1 821.7Q1122.8 825.1 1119.4 825.4L1112.4 825.4Q1118.4 820.7 1123.1 813.7Z" fill="#c98a66" opacity="0.9"/>
<rect x="1131.1" y="705.9" width="85.7" height="122.0" rx="4" fill="#b99128"/>
<rect x="1140" y="701.5" width="35.0" height="12.5" fill="#6a4030"/>
<text x="1048.7" y="735.9" font-family="'Liberation Sans', 'DejaVu Sans', sans-serif" font-weight="bold" font-size="15.8px" fill="#fff" textLength="43.5" lengthAdjust="spacingAndGlyphs">2.00C</text>
<circle cx="1061.9" cy="804.8" r="23.4" fill="#fff" fill-opacity="0.85"/>
<circle cx="1061.9" cy="804.8" r="22.2" fill="#2a7a1e" stroke="#111" stroke-width="1.4"/>
<rect x="1230.0" y="701.5" width="194.4" height="129.0" fill="#8c8c78"/>
<rect x="1228.9" y="701.5" width="193.4" height="6.5" fill="#3c3c30"/>
<rect x="1283" y="701.5" width="32.0" height="3.3" fill="#d99670"/>
<rect x="1283" y="704.8" width="32.0" height="3.0" rx="1.5" fill="#76745a"/>
<rect x="1336" y="701.5" width="30.0" height="8.5" fill="#d99670"/>
<rect x="1235.5" y="704.8" width="85.7" height="114.3" rx="4" fill="#76745a"/>
<path d="M1235.8 715.8L1235.8 708.8Q1236.1 705.4 1239.5 705.1L1244.5 705.1Z" fill="#c98a66" opacity="0.85"/>
<path d="M1320.9 807.1L1320.9 815.1Q1320.6 818.5 1317.2 818.8L1310.2 818.8Q1316.2 814.1 1320.9 807.1Z" fill="#c98a66" opacity="0.9"/>
<rect x="1326.7" y="709.2" width="87.9" height="113.2" rx="4" fill="#be9628"/>
<text x="1241" y="735.9" font-family="'Liberation Sans', 'DejaVu Sans', sans-serif" font-weight="bold" font-size="15.8px" fill="#fff" textLength="43.5" lengthAdjust="spacingAndGlyphs">2.25C</text>
<circle cx="1260.8" cy="804.8" r="23.4" fill="#fff" fill-opacity="0.85"/>
<circle cx="1260.8" cy="804.8" r="22.2" fill="#3a8a28" stroke="#111" stroke-width="1.4"/>
<rect x="1425.5" y="701.5" width="193.7" height="129.0" fill="#f6f4ec"/>
<rect x="1475" y="703" width="31.0" height="5.4" fill="#d99670"/>
<rect x="1475" y="708.4" width="31.0" height="6.0" rx="1.5" fill="#6e6c64"/>
<rect x="1531" y="703" width="24.0" height="5.0" fill="#d99670"/>
<rect x="1427" y="711.4" width="85.8" height="116.5" rx="4" fill="#6e6c64"/>
<path d="M1427.3 722.4L1427.3 715.4Q1427.6 712.0 1431.0 711.7L1436.0 711.7Z" fill="#c98a66" opacity="0.85"/>
<path d="M1512.5 815.9L1512.5 823.9Q1512.2 827.3 1508.8 827.6L1501.8 827.6Q1507.8 822.9 1512.5 815.9Z" fill="#c98a66" opacity="0.9"/>
<rect x="1527" y="705" width="86.9" height="125.0" rx="4" fill="#b4963c"/>
<rect x="1528" y="705" width="85.0" height="17.4" fill="#4a2a30"/>
<text x="1443.6" y="735.9" font-family="'Liberation Sans', 'DejaVu Sans', sans-serif" font-weight="bold" font-size="15.8px" fill="#fff" textLength="43.5" lengthAdjust="spacingAndGlyphs">2.50C</text>
<circle cx="1454.6" cy="804.8" r="23.4" fill="#fff" fill-opacity="0.85"/>
<circle cx="1454.6" cy="804.8" r="22.2" fill="#fbe8f6" stroke="#111" stroke-width="1.4"/>
<rect x="1620.5" y="701.5" width="190.1" height="129.0" fill="#f6f4ec"/>
<rect x="1669" y="706" width="29.0" height="6.3" fill="#d99670"/>
<rect x="1669" y="712.3" width="29.0" height="6.5" rx="1.5" fill="#737069"/>
<rect x="1766" y="701.5" width="29.0" height="16.5" fill="#d99670"/>
<rect x="1620.5" y="715.8" width="84.6" height="109.9" rx="4" fill="#737069"/>
<path d="M1620.8 726.8L1620.8 719.8Q1621.1 716.4 1624.5 716.1L1629.5 716.1Z" fill="#c98a66" opacity="0.85"/>
<path d="M1704.8 813.7L1704.8 821.7Q1704.5 825.1 1701.1 825.4L1694.1 825.4Q1700.1 820.7 1704.8 813.7Z" fill="#c98a66" opacity="0.9"/>
<rect x="1717.2" y="718" width="89.0" height="107.7" rx="4" fill="#ccab48"/>
<text x="1631.5" y="733.3" font-family="'Liberation Sans', 'DejaVu Sans', sans-serif" font-weight="bold" font-size="15.8px" fill="#fff" textLength="43.5" lengthAdjust="spacingAndGlyphs">3.00C</text>
<circle cx="1649" cy="804.8" r="23.4" fill="#fff" fill-opacity="0.85"/>
<circle cx="1649" cy="804.8" r="22.2" fill="#d84aa0" stroke="#111" stroke-width="1.4"/>
<rect x="1034.8" y="836.8" width="194.1" height="126.4" fill="#7c7c68"/>
<rect x="1033.3" y="836.8" width="194.5" height="4.7" fill="#2a2a24"/>
<rect x="1125" y="845" width="9.0" height="118.2" fill="#a8aa94"/>
<rect x="1033.3" y="959" width="194.5" height="4.2" fill="#3a3a34"/>
<rect x="1038.8" y="841.2" width="86.8" height="118.7" rx="4" fill="#96966e"/>
<path d="M1039.1 852.2L1039.1 845.2Q1039.4 841.8 1042.8 841.5L1047.8 841.5Z" fill="#c98a66" opacity="0.85"/>
<path d="M1125.3 947.9L1125.3 955.9Q1125.0 959.3 1121.6 959.6L1114.6 959.6Q1120.6 954.9 1125.3 947.9Z" fill="#c98a66" opacity="0.9"/>
<rect x="1133.3" y="845.6" width="85.7" height="117.6" rx="4" fill="#c89b1e"/>
<rect x="1088" y="836.8" width="32.0" height="6.2" fill="#e8c88c"/>
<rect x="1140" y="838" width="28.0" height="10.0" fill="#f0c890"/>
<text x="1049.8" y="872.3" font-family="'Liberation Sans', 'DejaVu Sans', sans-serif" font-weight="bold" font-size="15.8px" fill="#fff" textLength="43.5" lengthAdjust="spacingAndGlyphs">2.25C</text>
<circle cx="1061.9" cy="936.8" r="23.4" fill="#fff" fill-opacity="0.85"/>
<circle cx="1061.9" cy="936.8" r="22.2" fill="#2a7820" stroke="#111" stroke-width="1.4"/>
<rect x="1230.0" y="836.8" width="194.4" height="126.4" fill="#94948e"/>
<rect x="1230" y="836.8" width="192.3" height="4.7" fill="#2a2a24"/>
<rect x="1282" y="836.8" width="30.0" height="3.7" fill="#d99670"/>
<rect x="1282" y="840.5" width="30.0" height="3.7" rx="1.5" fill="#5f5a55"/>
<rect x="1234.4" y="841.2" width="84.6" height="119.8" rx="4" fill="#5f5a55"/>
<path d="M1234.7 852.2L1234.7 845.2Q1235.0 841.8 1238.4 841.5L1243.4 841.5Z" fill="#c98a66" opacity="0.85"/>
<path d="M1318.7 949.0L1318.7 957.0Q1318.4 960.4 1315.0 960.7L1308.0 960.7Q1314.0 956.0 1318.7 949.0Z" fill="#c98a66" opacity="0.9"/>
<rect x="1328.9" y="846.7" width="86.8" height="116.5" rx="4" fill="#d7b432"/>
<rect x="1330" y="838" width="85.0" height="13.0" fill="#6a3a20"/>
<text x="1242" y="872.3" font-family="'Liberation Sans', 'DejaVu Sans', sans-serif" font-weight="bold" font-size="15.8px" fill="#fff" textLength="43.5" lengthAdjust="spacingAndGlyphs">2.50C</text>
<circle cx="1258.1" cy="936.8" r="23.4" fill="#fff" fill-opacity="0.85"/>
<circle cx="1258.1" cy="936.8" r="22.2" fill="#9cd468" stroke="#111" stroke-width="1.4"/>
<rect x="1425.5" y="836.8" width="193.7" height="126.4" fill="#f6f3ea"/>
<rect x="1478" y="837" width="30.0" height="4.8" fill="#d99670"/>
<rect x="1478" y="841.8" width="30.0" height="5.7" rx="1.5" fill="#5f5c58"/>
<rect x="1575" y="837" width="30.0" height="10.0" fill="#d99670"/>
<rect x="1426" y="844.5" width="86.8" height="115.4" rx="4" fill="#5f5c58"/>
<path d="M1426.3 855.5L1426.3 848.5Q1426.6 845.1 1430.0 844.8L1435.0 844.8Z" fill="#c98a66" opacity="0.85"/>
<path d="M1512.5 947.9L1512.5 955.9Q1512.2 959.3 1508.8 959.6L1501.8 959.6Q1507.8 954.9 1512.5 947.9Z" fill="#c98a66" opacity="0.9"/>
<rect x="1529.3" y="846.7" width="85.7" height="114.3" rx="4" fill="#a08732"/>
<rect x="1530" y="847" width="84.0" height="11.0" fill="#4a3a28"/>
<text x="1444.7" y="872.3" font-family="'Liberation Sans', 'DejaVu Sans', sans-serif" font-weight="bold" font-size="15.8px" fill="#fff" textLength="43.5" lengthAdjust="spacingAndGlyphs">3.00C</text>
<circle cx="1454.6" cy="936.8" r="23.4" fill="#fff" fill-opacity="0.85"/>
<circle cx="1454.6" cy="936.8" r="22.2" fill="#ec98d4" stroke="#111" stroke-width="1.4"/>
<rect x="1620.5" y="836.8" width="190.1" height="126.4" fill="#f8f8f6"/>
<rect x="1672" y="837" width="30.0" height="6.6" fill="#d99670"/>
<rect x="1672" y="843.6" width="30.0" height="7.2" rx="1.5" fill="#787670"/>
<rect x="1768" y="839" width="29.0" height="8.0" fill="#d99670"/>
<rect x="1621.6" y="847.8" width="85.7" height="113.2" rx="4" fill="#787670"/>
<path d="M1621.9 858.8L1621.9 851.8Q1622.2 848.4 1625.6 848.1L1630.6 848.1Z" fill="#c98a66" opacity="0.85"/>
<path d="M1707.0 949.0L1707.0 957.0Q1706.7 960.4 1703.3 960.7L1696.3 960.7Q1702.3 956.0 1707.0 949.0Z" fill="#c98a66" opacity="0.9"/>
<rect x="1719.4" y="846.7" width="84.6" height="114.3" rx="4" fill="#966e46"/>
<text x="1632.6" y="872.3" font-family="'Liberation Sans', 'DejaVu Sans', sans-serif" font-weight="bold" font-size="15.8px" fill="#fff" textLength="43.5" lengthAdjust="spacingAndGlyphs">4.00C</text>
<circle cx="1649.7" cy="936.8" r="23.4" fill="#fff" fill-opacity="0.85"/>
<circle cx="1649.7" cy="936.8" r="22.2" fill="#e888c8" stroke="#111" stroke-width="1.4"/>
</svg>
</body></html>
